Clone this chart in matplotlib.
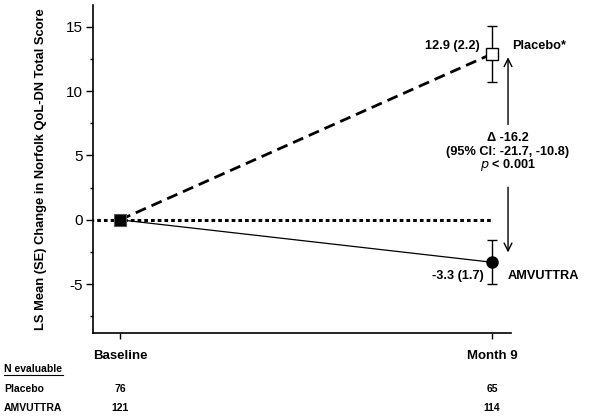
import matplotlib
matplotlib.use("Agg")
import matplotlib.pyplot as plt

plt.rcParams['font.family'] = ['Liberation Sans', 'DejaVu Sans']
plt.rcParams['axes.unicode_minus'] = False

timepoints = ["Baseline", "Month 9"]
placebo_mean = [0.0, 12.9]
placebo_se = [0.0, 2.2]
amv_mean = [0.0, -3.3]
amv_se = [0.0, 1.7]
n_placebo = [76, 65]
n_amv = [121, 114]
delta_text = ["Δ -16.2", "(95% CI: -21.7, -10.8)", "p < 0.001"]
yticks = [-5, 0, 5, 10, 15]

x = [0, 1]
fs_ann = 9.2

fig = plt.figure(figsize=(5.92, 4.19), dpi=100)
ax = fig.add_axes([92.5 / 592, 1 - 333 / 419, (511 - 92.5) / 592, (333 - 5) / 419])

# zero reference line
ax.plot([-0.08, 1.0], [0, 0], color='black', linestyle=(0, (1.2, 1.0)), linewidth=2.2, zorder=1)

# Placebo
ax.plot(x, placebo_mean, color='black', linestyle=(0, (4, 2.2)), linewidth=2.0, zorder=2)
ax.errorbar([x[1]], [placebo_mean[1]], yerr=[placebo_se[1]], fmt='none', ecolor='black',
            elinewidth=1.0, capsize=3.6, capthick=1.0, zorder=3)
ax.plot([x[1]], [placebo_mean[1]], marker='s', markersize=8.5, markerfacecolor='white',
        markeredgecolor='black', markeredgewidth=1.0, linestyle='none', zorder=4)

# AMVUTTRA
ax.plot(x, amv_mean, color='black', linestyle='-', linewidth=0.9, zorder=2)
ax.errorbar([x[1]], [amv_mean[1]], yerr=[amv_se[1]], fmt='none', ecolor='black',
            elinewidth=1.0, capsize=3.6, capthick=1.0, zorder=3)
ax.plot([x[1]], [amv_mean[1]], marker='o', markersize=8, color='black', linestyle='none', zorder=4)

# baseline marker
ax.plot([x[0]], [placebo_mean[0]], marker='s', markersize=8, markerfacecolor='black',
        markeredgecolor='#555555', markeredgewidth=0.8, linestyle='none', zorder=5)

# value labels
ax.text(0.968, 13.5, f"{placebo_mean[1]} ({placebo_se[1]})", ha='right', va='center',
        fontsize=fs_ann, fontweight='bold')
ax.text(1.053, 13.5, "Placebo*", ha='left', va='center', fontsize=fs_ann, fontweight='bold')
ax.text(0.977, -4.35, f"{amv_mean[1]} ({amv_se[1]})", ha='right', va='center',
        fontsize=fs_ann, fontweight='bold')
ax.text(1.041, -4.35, "AMVUTTRA", ha='left', va='center', fontsize=fs_ann, fontweight='bold')

# difference arrows and text
ax_x = 1.043
ax.annotate("", xy=(ax_x, 12.85), xytext=(ax_x, 7.2),
            arrowprops=dict(arrowstyle='->', color='black', lw=1.0, mutation_scale=14),
            annotation_clip=False)
ax.annotate("", xy=(ax_x, -2.75), xytext=(ax_x, 2.75),
            arrowprops=dict(arrowstyle='->', color='black', lw=1.0, mutation_scale=14),
            annotation_clip=False)
ax.text(ax_x, 6.35, delta_text[0], ha='center', va='center', fontsize=fs_ann, fontweight='bold')
ax.text(ax_x, 5.3, delta_text[1], ha='center', va='center', fontsize=fs_ann, fontweight='bold')
ax.text(ax_x, 4.25, "$\\bf{\\it{p}}$ < 0.001", ha='center', va='center', fontsize=fs_ann,
        fontweight='bold')

ax.set_xlim(-0.074, 1.051)
ax.set_ylim(-8.8, 16.7)
ax.set_yticks(yticks)
ax.set_yticks([-7.5, -2.5, 2.5, 7.5, 12.5], minor=True)
ax.set_xticks(x)
ax.set_xticklabels(timepoints, fontsize=9.5, fontweight='bold')
ax.tick_params(axis='x', length=4.5, width=1.0, pad=8)
ax.tick_params(axis='y', which='major', length=5, width=1.0, labelsize=11, pad=2)
ax.tick_params(axis='y', which='minor', length=2.5, width=1.0)
ax.spines['top'].set_visible(False)
ax.spines['right'].set_visible(False)
ax.spines['left'].set_linewidth(1.2)
ax.spines['bottom'].set_linewidth(1.2)
ax.set_ylabel("LS Mean (SE) Change in Norfolk QoL-DN Total Score", fontsize=9.3,
              fontweight='bold')
ax.yaxis.set_label_coords(-0.109, 0.5)

# N evaluable table
def fx(px):
    return px / 592.0

def fy(py):
    return 1 - py / 419.0

fig.text(fx(4), fy(369), "N evaluable", ha='left', va='center', fontsize=7.5, fontweight='bold')
fig.add_artist(plt.Line2D([fx(4), fx(63)], [fy(375), fy(375)], color='black', lw=0.8))
fig.text(fx(4), fy(389), "Placebo", ha='left', va='center', fontsize=7.5, fontweight='bold')
fig.text(fx(4), fy(408), "AMVUTTRA", ha='left', va='center', fontsize=7.5, fontweight='bold')

for i, xv in enumerate(x):
    xpix = 120 + xv * 372
    fig.text(fx(xpix), fy(389), str(n_placebo[i]), ha='center', va='center', fontsize=7.5,
             fontweight='bold')
    fig.text(fx(xpix), fy(408), str(n_amv[i]), ha='center', va='center', fontsize=7.5,
             fontweight='bold')

fig.savefig("out.png", dpi=100)
